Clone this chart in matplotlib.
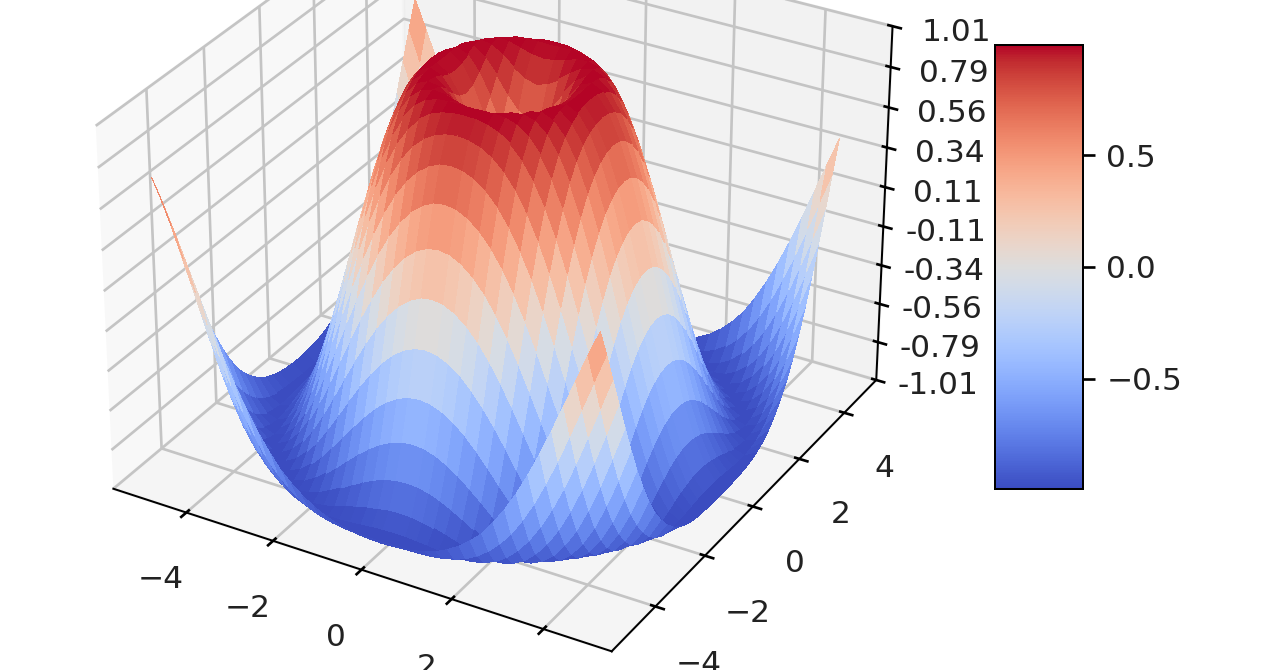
import numpy as np
import matplotlib
matplotlib.use("Agg")
import matplotlib.pyplot as plt
from matplotlib.ticker import LinearLocator, FormatStrFormatter

# Surface heights, read per grid step: row n holds |x| = n*0.25 against |y| = 0..n *0.25
# (the surface is mirror-symmetric, so one octant holds every value).
height_rows = [
 [0.000],
 [0.247,0.346],
 [0.479,0.530,0.650],
 [0.682,0.711,0.784,0.873],
 [0.841,0.858,0.899,0.949,0.988],
 [0.949,0.957,0.975,0.994,1.000,0.981],
 [0.997,0.999,1.000,0.994,0.973,0.928,0.853],
 [0.984,0.981,0.969,0.945,0.902,0.836,0.742,0.618],
 [0.909,0.902,0.882,0.845,0.787,0.706,0.598,0.465,0.308],
 [0.778,0.769,0.742,0.696,0.628,0.537,0.423,0.287,0.131,-0.040],
 [0.598,0.589,0.558,0.507,0.433,0.340,0.224,0.089,-0.060,-0.220,-0.384],
 [0.382,0.372,0.340,0.287,0.214,0.120,0.009,-0.118,-0.256,-0.400,-0.544,-0.680],
 [0.141,0.131,0.100,0.049,-0.020,-0.108,-0.211,-0.326,-0.448,-0.572,-0.692,-0.799,-0.892],
 [-0.108,-0.118,-0.146,-0.192,-0.256,-0.334,-0.423,-0.522,-0.626,-0.725,-0.819,-0.898,-0.958,-0.993],
 [-0.351,-0.359,-0.384,-0.423,-0.477,-0.544,-0.619,-0.698,-0.776,-0.852,-0.916,-0.966,-0.995,-0.998,-0.972],
 [-0.572,-0.578,-0.598,-0.631,-0.673,-0.725,-0.781,-0.840,-0.895,-0.943,-0.980,-0.998,-0.996,-0.970,-0.914,-0.830],
 [-0.757,-0.762,-0.776,-0.800,-0.832,-0.867,-0.905,-0.940,-0.971,-0.993,-1.000,-0.990,-0.959,-0.905,-0.824,-0.721,-0.587],
 [-0.895,-0.898,-0.908,-0.922,-0.940,-0.960,-0.979,-0.993,-1.000,-0.995,-0.976,-0.940,-0.881,-0.803,-0.703,-0.577,-0.433,-0.269],
 [-0.978,-0.979,-0.983,-0.989,-0.995,-0.999,-0.999,-0.993,-0.978,-0.950,-0.907,-0.846,-0.768,-0.669,-0.550,-0.413,-0.259,-0.093,0.081],
 [-0.999,-0.999,-0.998,-0.995,-0.990,-0.980,-0.964,-0.940,-0.904,-0.855,-0.793,-0.717,-0.618,-0.504,-0.374,-0.229,-0.073,0.091,0.257,0.421],
 [-0.959,-0.957,-0.951,-0.942,-0.926,-0.905,-0.873,-0.833,-0.782,-0.722,-0.639,-0.545,-0.437,-0.314,-0.179,-0.033,0.120,0.275,0.430,0.575,0.709],
]
grid_index = list(range(-20, 20))
grid_step = 0.25
z_limits = (-1.01, 1.01)

xs = np.array(grid_index) * grid_step
X, Y = np.meshgrid(xs, xs)
Z = np.array([[height_rows[max(abs(i), abs(j))][min(abs(i), abs(j))]
               for i in grid_index] for j in grid_index])

W, H, S = 1280, 670, 240
plt.rcParams["font.size"] = 9.4
plt.rcParams["axes.linewidth"] = 0.6
plt.rcParams["text.color"] = "#222222"
plt.rcParams["xtick.labelcolor"] = "#222222"
plt.rcParams["ytick.labelcolor"] = "#222222"
plt.rcParams["grid.color"] = "#c4c4c4"
def px_rect(left, top, w, h):
    return [left / W, (H - top - h) / H, w / W, h / H]

fig = plt.figure(figsize=(W / S, H / S), dpi=S)
L = 880
ax = fig.add_axes(px_rect(490 - L / 2, 270 - L / 2, L, L), projection="3d")
surf = ax.plot_surface(X, Y, Z, cmap="coolwarm", linewidth=0, antialiased=False,
                       rstride=1, cstride=1)
ax.set_zlim(*z_limits)
ax.zaxis.set_major_locator(LinearLocator(10))
ax.zaxis.set_major_formatter(FormatStrFormatter("%.02f"))
ax.set_box_aspect((4, 4, 2.9))
ax.patch.set_alpha(0)
cax = fig.add_axes(px_rect(995, 45, 88, 444))
fig.colorbar(surf, cax=cax)
fig.savefig("out.png", dpi=S)
